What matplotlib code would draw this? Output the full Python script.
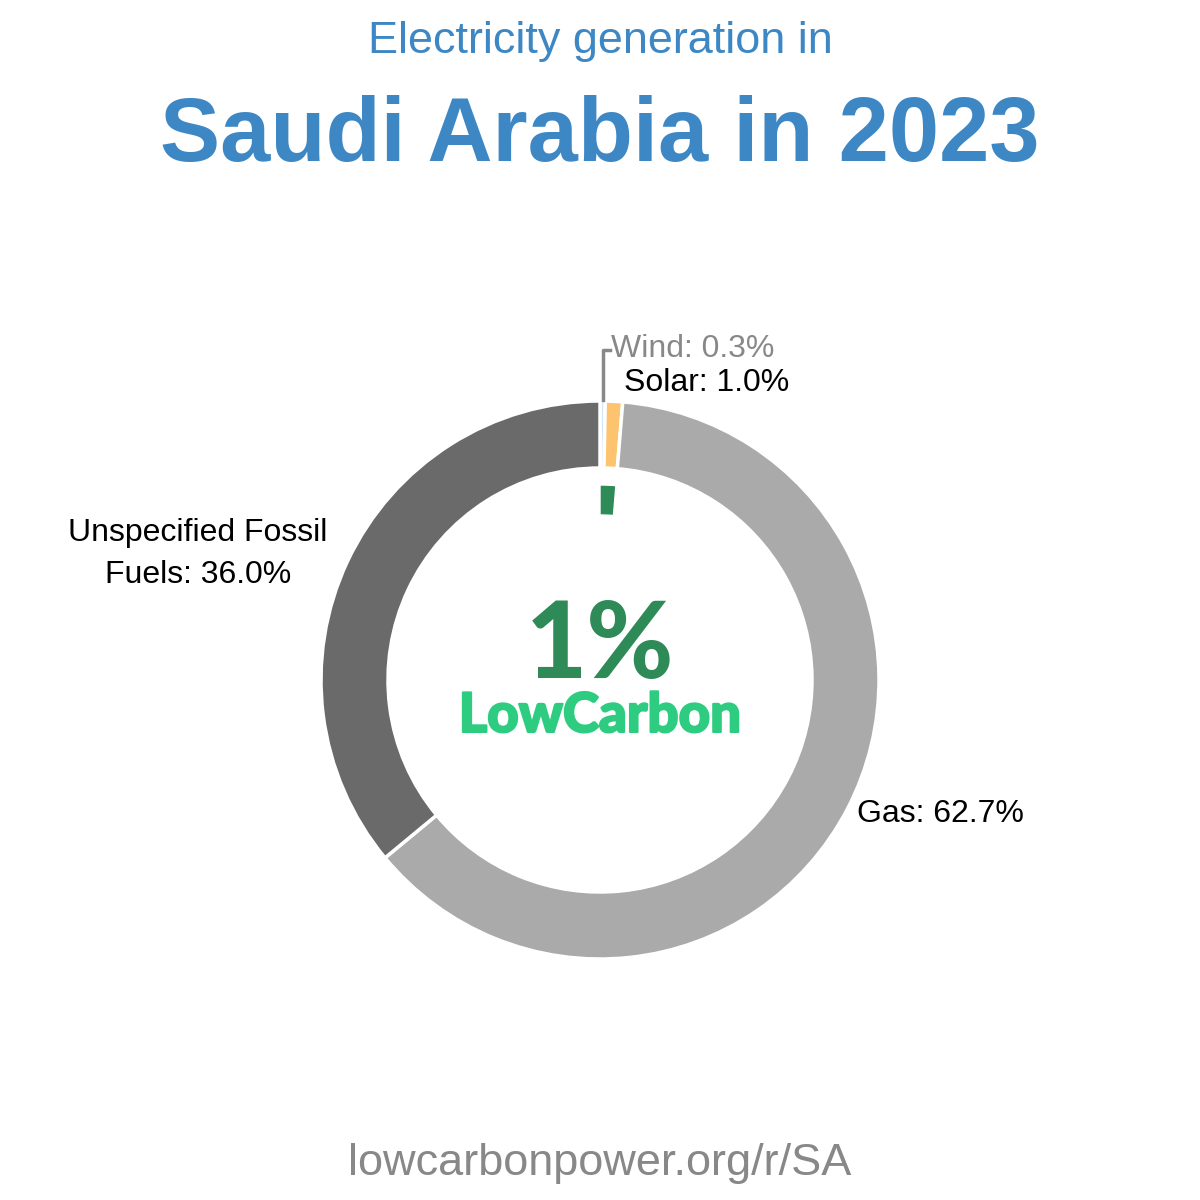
import matplotlib
matplotlib.use("Agg")
import matplotlib.pyplot as plt
import matplotlib.patheffects as pe
from matplotlib.patches import Wedge

# data
sources = ["Wind", "Solar", "Gas", "Unspecified Fossil Fuels"]
shares = [0.3, 1.0, 62.7, 36.0]
colors = ["#cfe6fb", "#fdc36f", "#aaaaaa", "#6a6a6a"]
low_carbon = ["Wind", "Solar"]

fig = plt.figure(figsize=(12, 12), dpi=100)
ax = fig.add_axes([0, 0, 1, 1])
ax.set_xlim(0, 1200)
ax.set_ylim(0, 1200)
ax.set_aspect("equal")
ax.axis("off")

cx, cy = 600, 520
r_out = 279
ring = 67

ax.pie(shares, colors=colors, startangle=90, counterclock=False,
       center=(cx, cy), radius=r_out,
       wedgeprops=dict(width=ring, edgecolor="white", linewidth=2.5))
ax.set_xlim(0, 1200)
ax.set_ylim(0, 1200)

# inner green arc for low carbon share
lc_share = sum(s for n, s in zip(sources, shares) if n in low_carbon)
ax.add_patch(Wedge((cx, cy), 195, 90 - lc_share * 3.6, 90, width=30,
                   facecolor="#2e8b57", edgecolor="white", linewidth=1))

ax.text(600, 1159, "Electricity generation in", ha="center", va="center",
        fontsize=32.4, color="#3d88c4", family="Liberation Sans")
ax.text(600, 1063, "Saudi Arabia in 2023", ha="center", va="center",
        fontsize=65, color="#3d88c4", family="Liberation Sans", weight="bold")

ax.text(600, 553, f"{round(lc_share)}%", ha="center", va="center",
        fontsize=76, color="#2e8b57", family="Lato", weight="black")
ax.text(600, 484, "LowCarbon", ha="center", va="center",
        fontsize=39.3, color="#2ecc80", family="Lato", weight="black",
        path_effects=[pe.withStroke(linewidth=1.5, foreground="#2ecc80")])

lab = dict(fontsize=23, family="Liberation Sans", va="center")
ax.plot([603, 603, 610], [800, 850, 850], color="#888888", lw=2.5)
ax.text(611, 851, f"{sources[0]}: {shares[0]:.1f}%", color="#888888", **lab)
ax.text(624, 817, f"{sources[1]}: {shares[1]:.1f}%", color="black", **lab)
ax.text(857, 386, f"{sources[2]}: {shares[2]:.1f}%", color="black", **lab)
ax.text(198, 646, f"Unspecified Fossil\nFuels: {shares[3]:.1f}%", color="black",
        ha="center", linespacing=1.5, fontsize=23, family="Liberation Sans",
        va="center")

ax.text(600, 36, "lowcarbonpower.org/r/SA", ha="center", va="center",
        fontsize=32.5, color="#888888", family="Liberation Sans")

fig.savefig("out.png", dpi=100, facecolor="white")
